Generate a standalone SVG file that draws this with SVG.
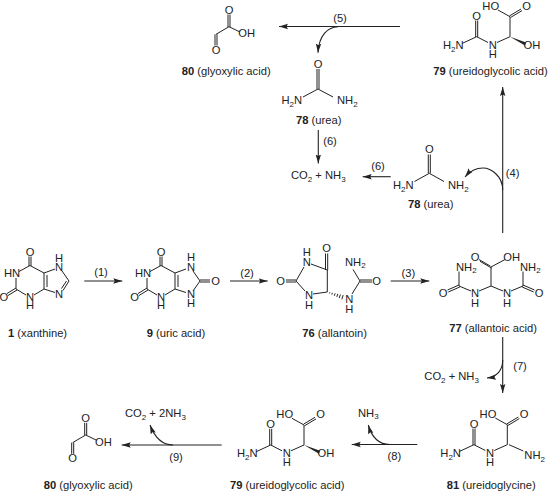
<svg xmlns="http://www.w3.org/2000/svg" width="552" height="493" viewBox="0 0 552 493">
<style>
text{font-family:"Liberation Sans",Arial,sans-serif;font-size:11.2px;fill:#222}
.a{text-anchor:middle}
.s{font-size:8px}
.b{font-weight:bold}
.bond{fill:none;stroke:#222;stroke-width:1}
.arr{fill:none;stroke:#222;stroke-width:1.1;marker-end:url(#head)}
.line{fill:none;stroke:#222;stroke-width:1.1}
</style>
<defs>
<marker id="head" markerUnits="userSpaceOnUse" markerWidth="10" markerHeight="8" refX="9" refY="3.5" orient="auto"><path d="M0,0.8 L9,3.5 L0,6.2 L1.5,3.5 Z" fill="#222"/></marker>
</defs>
<rect width="552" height="493" fill="#fff"/>

<g id="connectors">
<path class="arr" d="M84.3,281H122.3"/>
<path class="arr" d="M230,281H267.7"/>
<path class="arr" d="M390.7,281H429.3"/>
<path class="arr" d="M502.7,233V87"/>
<path class="arr" d="M502.7,190C502.7,176 491,168 483,168C476,168 470,171 465,177"/>
<path class="arr" d="M400,26.5H279"/>
<path class="arr" d="M338,26.7C328,27 319,35 318,52.7"/>
<path class="arr" d="M318.3,130V163.5"/>
<path class="arr" d="M390.7,176.7H362.7"/>
<path class="arr" d="M502.7,337V393"/>
<path class="arr" d="M502.7,360C502.7,370 497,377 487,378"/>
<path class="arr" d="M417.3,444.5H351.7"/>
<path class="arr" d="M390,444.5C380,444.5 372,438 368.3,425"/>
<path class="arr" d="M221.7,445H121.7"/>
<path class="arr" d="M173,445C163,445 155,438 150,425"/>
<text class="a" x="101" y="275.5">(1)</text>
<text class="a" x="247" y="276.5">(2)</text>
<text class="a" x="408.3" y="276.5">(3)</text>
<text class="a" x="512.7" y="176.5">(4)</text>
<text class="a" x="340" y="21.5">(5)</text>
<text class="a" x="330" y="144.5">(6)</text>
<text class="a" x="378" y="169.5">(6)</text>
<text class="a" x="520" y="370">(7)</text>
<text class="a" x="394.3" y="460">(8)</text>
<text class="a" x="176" y="460.5">(9)</text>
<text x="291" y="179">CO<tspan class="s" dy="2.5">2</tspan><tspan dy="-2.5"> + NH</tspan><tspan class="s" dy="2.5">3</tspan></text>
<text x="424.3" y="380">CO<tspan class="s" dy="2.5">2</tspan><tspan dy="-2.5"> + NH</tspan><tspan class="s" dy="2.5">3</tspan></text>
<text x="358" y="416.5">NH<tspan class="s" dy="2.5">3</tspan></text>
<text x="125" y="417">CO<tspan class="s" dy="2.5">2</tspan><tspan dy="-2.5"> + 2NH</tspan><tspan class="s" dy="2.5">3</tspan></text>
</g>

<g id="xanthine">
<path class="bond" d="M29,256.5V266M31,256.5V266M30,265.5L19,271.5M30,265.5L44,273M44,273V289M47,275V287M44,289L34,295M26,295L16,289M16,289V278M16,288L7,293.5M17,290L8,295.5M44,273L55,269M44,289L55,292.5M62,271L69,281M69,281L63,290.5M66.5,281L61.5,288.5"/>
<text class="a" x="30" y="256">O</text>
<text class="a" x="12" y="276.5">HN</text>
<text class="a" x="3.9" y="300.5">O</text>
<text class="a" x="30" y="300.5">N</text>
<text class="a" x="30" y="309">H</text>
<text class="a" x="59" y="271">N</text>
<text class="a" x="59" y="261.5">H</text>
<text class="a" x="59" y="298">N</text>
<text x="8" y="336.5"><tspan class="b">1</tspan> (xanthine)</text>
</g>

<g id="uric-acid">
<path class="bond" d="M160,256.5V266M162,256.5V266M161,265.5L150,271.5M161,265.5L175,273M175,273V289M178,275V287M175,289L165,295M157,295L147,289M147,289V278M147,288L138,293.5M148,290L139,295.5M175,273L186,269M175,289L186,292.5M193,271L200,281M200,281L193,291M200,280H210M200,282H210"/>
<text class="a" x="161" y="256">O</text>
<text class="a" x="143" y="276.5">HN</text>
<text class="a" x="134.5" y="300.5">O</text>
<text class="a" x="161" y="300.5">N</text>
<text class="a" x="161" y="309">H</text>
<text class="a" x="191" y="270.5">N</text>
<text class="a" x="191" y="261">H</text>
<text class="a" x="191" y="298">N</text>
<text class="a" x="191" y="307">H</text>
<text class="a" x="215.7" y="285">O</text>
<text x="146.7" y="336.5"><tspan class="b">9</tspan> (uric acid)</text>
</g>

<g id="allantoin">
<path class="bond" d="M325.5,253.5V270M327.7,253.5V270M327.3,270V292M311,264L327.3,270M296,281L304,267M296,281L305,291M313,294L327.3,292M296,280H286M296,282H286M352,294L360,281M360,280H372M360,282H372M360,281L353,269.5M329.8,292.3L329.4,293.4M332.4,292.8L331.8,294.6M335.1,293.4L334.3,295.8M337.8,293.9L336.8,296.9M340.4,294.5L339.2,298.1M343.2,295.1L341.8,299.3"/>
<text class="a" x="326.5" y="252">O</text>
<text class="a" x="306.7" y="265.5">N</text>
<text class="a" x="306.7" y="256">H</text>
<text class="a" x="280.7" y="285">O</text>
<text class="a" x="309" y="299">N</text>
<text class="a" x="309" y="308.5">H</text>
<text class="a" x="349.3" y="303">N</text>
<text class="a" x="349.3" y="313">H</text>
<text class="a" x="376.7" y="285">O</text>
<text x="345" y="265.5">NH<tspan class="s" dy="2.5">2</tspan></text>
<text x="302.3" y="336.5"><tspan class="b">76</tspan> (allantoin)</text>
</g>

<g id="allantoic-acid">
<path class="bond" d="M491,286V267M490.5,266.2L479,259.5M491.5,268L480,261.3M491,267L505,259.5M491,286L479,291M471,291L459,286M459,285L447.5,290M459.8,287L448.3,292M459,286V271.5M491,286L503,291M511,291L523,286M523,285L534.5,290M522.2,287L533.7,292M523,286V271.5"/>
<text class="a" x="475" y="260.5">O</text>
<text class="a" x="511.7" y="260.5">OH</text>
<text x="456" y="270.5">NH<tspan class="s" dy="2.5">2</tspan></text>
<text x="520" y="270.5">NH<tspan class="s" dy="2.5">2</tspan></text>
<text class="a" x="443" y="297">O</text>
<text class="a" x="475" y="297">N</text>
<text class="a" x="475" y="306.5">H</text>
<text class="a" x="507" y="297">N</text>
<text class="a" x="507" y="306.5">H</text>
<text class="a" x="539" y="297">O</text>
<text x="449.3" y="332"><tspan class="b">77</tspan> (allantoic acid)</text>
</g>

<g id="glyoxylic-acid-top">
<path class="bond" d="M228,14.5V27M230,14.5V27M229,26.7L216,34.3M229,26.7L240,32M215,34.3V45.5M217,34.3V45.5"/>
<text class="a" x="229" y="14">O</text>
<text class="a" x="246.7" y="37.3">OH</text>
<text class="a" x="216" y="54">O</text>
<text x="181.7" y="75"><tspan class="b">80</tspan> (glyoxylic acid)</text>
</g>

<g id="urea-top">
<path class="bond" d="M317,69V89M319,69V89M318,89L303,97M318,89L333,97"/>
<text class="a" x="318" y="68">O</text>
<text x="281.5" y="104">H<tspan class="s" dy="2.5">2</tspan><tspan dy="-2.5">N</tspan></text>
<text x="337" y="104">NH<tspan class="s" dy="2.5">2</tspan></text>
<text x="296" y="124"><tspan class="b">78</tspan> (urea)</text>
</g>

<g id="urea-right">
<path class="bond" d="M428.3,154.5V173.3M430.3,154.5V173.3M429.3,173.3L414.5,181.5M429.3,173.3L444,181.5"/>
<text class="a" x="429.3" y="153.3">O</text>
<text x="393" y="189">H<tspan class="s" dy="2.5">2</tspan><tspan dy="-2.5">N</tspan></text>
<text x="448" y="189">NH<tspan class="s" dy="2.5">2</tspan></text>
<text x="408" y="208"><tspan class="b">78</tspan> (urea)</text>
</g>

<g id="ureidoglycolic-acid-top">
<path class="bond" d="M475.7,20.5V37M477.7,20.5V37M476.7,36.7L462,43.5M476.7,36.7L488,42.5M497,42.5L510,36.7M510,36.7V16.7M509.5,15.9L521,9M510.5,17.5L522,10.6M510,16.7L498,10"/>
<path d="M510,36.7L526,42.5L525,45.5Z" fill="#222"/>
<text class="a" x="476.7" y="20">O</text>
<text x="443" y="49">H<tspan class="s" dy="2.5">2</tspan><tspan dy="-2.5">N</tspan></text>
<text class="a" x="492.7" y="49">N</text>
<text class="a" x="492.7" y="57.5">H</text>
<text class="a" x="490.7" y="10">HO</text>
<text class="a" x="526.7" y="10">O</text>
<text class="a" x="532" y="49">OH</text>
<text x="433.3" y="75"><tspan class="b">79</tspan> (ureidoglycolic acid)</text>
</g>

<g id="ureidoglycine" transform="translate(-2.7,408)">
<path class="bond" d="M475.7,20.5V37M477.7,20.5V37M476.7,36.7L462,43.5M476.7,36.7L488,42.5M497,42.5L510,36.7M510,36.7V16.7M509.5,15.9L521,9M510.5,17.5L522,10.6M510,16.7L498,10M511.7,36.7L526,43"/>
<text class="a" x="476.7" y="20">O</text>
<text x="443" y="49">H<tspan class="s" dy="2.5">2</tspan><tspan dy="-2.5">N</tspan></text>
<text class="a" x="492.7" y="49">N</text>
<text class="a" x="492.7" y="57.5">H</text>
<text class="a" x="490.7" y="10">HO</text>
<text class="a" x="526.7" y="10">O</text>
<text x="527" y="51">NH<tspan class="s" dy="2.5">2</tspan></text>
<text x="449.4" y="81"><tspan class="b">81</tspan> (ureidoglycine)</text>
</g>

<g id="ureidoglycolic-acid-bottom" transform="translate(-206,408.3)">
<path class="bond" d="M475.7,20.5V37M477.7,20.5V37M476.7,36.7L462,43.5M476.7,36.7L488,42.5M497,42.5L510,36.7M510,36.7V16.7M509.5,15.9L521,9M510.5,17.5L522,10.6M510,16.7L498,10"/>
<path d="M510,36.7L526,42.5L525,45.5Z" fill="#222"/>
<text class="a" x="476.7" y="20">O</text>
<text x="443" y="49">H<tspan class="s" dy="2.5">2</tspan><tspan dy="-2.5">N</tspan></text>
<text class="a" x="492.7" y="49">N</text>
<text class="a" x="492.7" y="57.5">H</text>
<text class="a" x="490.7" y="10">HO</text>
<text class="a" x="526.7" y="10">O</text>
<text class="a" x="532" y="49">OH</text>
<text x="436" y="80.7"><tspan class="b">79</tspan> (ureidoglycolic acid)</text>
</g>

<g id="glyoxylic-acid-bottom" transform="translate(-143.3,408.3)">
<path class="bond" d="M228,14.5V27M230,14.5V27M229,26.7L216,34.3M229,26.7L240,32M215,34.3V45.5M217,34.3V45.5"/>
<text class="a" x="229" y="14">O</text>
<text class="a" x="246.7" y="37.3">OH</text>
<text class="a" x="216" y="54">O</text>
<text x="187" y="80.7"><tspan class="b">80</tspan> (glyoxylic acid)</text>
</g>
</svg>
